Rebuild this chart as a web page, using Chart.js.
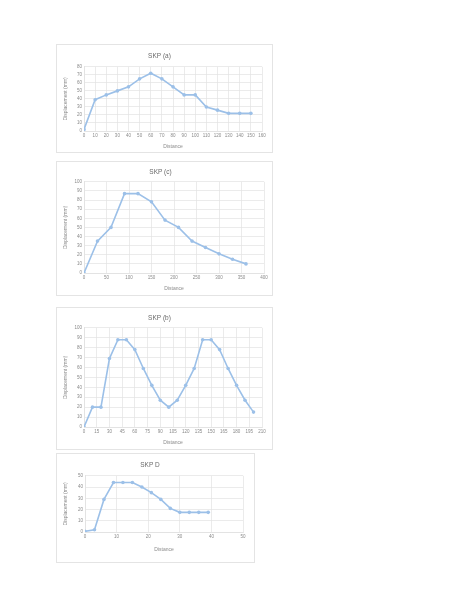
<!DOCTYPE html>
<html>
<head>
<meta charset="utf-8">
<script src="https://cdn.jsdelivr.net/npm/chart.js@4.4.0/dist/chart.umd.min.js"></script>
<style>
  body { margin: 0; background: #fff; width: 474px; height: 613px; position: relative; overflow: hidden; }
  .box { position: absolute; border: 1px solid #e4e4e4; box-sizing: border-box; }
</style>
</head>
<body>
<div class="box" style="left:56px;top:44px;width:217px;height:109px"><canvas id="c1"></canvas></div>
<div class="box" style="left:56px;top:161px;width:217px;height:135px"><canvas id="c2"></canvas></div>
<div class="box" style="left:56px;top:307px;width:217px;height:143px"><canvas id="c3"></canvas></div>
<div class="box" style="left:56px;top:453px;width:199px;height:110px"><canvas id="c4"></canvas></div>
<script>
// chart titles and axis titles
let titles = ['SKP (a)', 'SKP (c)', 'SKP (b)', 'SKP D'];
let xTitle = 'Distance';
let yTitle = 'Displacement (mm)';

// chart 1
let x1 = [0, 10, 20, 30, 40, 50, 60, 70, 80, 90, 100, 110, 120, 130, 140, 150];
let y1 = [2, 39, 45, 50, 55, 65, 72, 65, 55, 45, 45, 30, 26, 22, 22, 22];

// chart 2
let x2 = [0, 30, 60, 90, 120, 150, 180, 210, 240, 270, 300, 330, 360];
let y2 = [0, 35, 50, 87, 87, 78, 58, 50, 35, 28, 21, 15, 10];

// chart 3
let x3 = [0, 10, 20, 30, 40, 50, 60, 70, 80, 90, 100, 110, 120, 130, 140, 150, 160, 170, 180, 190, 200];
let y3 = [0, 20, 20, 69, 88, 88, 78, 59, 42, 27, 20, 27, 42, 59, 88, 88, 78, 59, 42, 27, 15];

// chart 4
let x4 = [0, 3, 6, 9, 12, 15, 18, 21, 24, 27, 30, 33, 36, 39];
let y4 = [0.6, 2, 29, 44, 44, 44, 40, 35, 29, 21, 17.5, 17.5, 17.5, 17.5];

let lineColor = '#9cc0e8';
let gridColor = '#e3e3e3';
let textColor = '#8a8a8a';

function makeChart(id, xs, ys, title, xAxis, yAxis, lay) {
  let points = xs.map(function (x, i) { return { x: x, y: ys[i] }; });
  return new Chart(document.getElementById(id), {
    type: 'line',
    data: {
      datasets: [{
        data: points,
        borderColor: lineColor,
        backgroundColor: lineColor,
        borderWidth: 1.6,
        pointRadius: 1.8,
        pointBorderWidth: 0,
        tension: 0
      }]
    },
    options: {
      responsive: true,
      maintainAspectRatio: false,
      animation: false,
      layout: { padding: { left: 0, right: lay.right, top: 0, bottom: 0 } },
      plugins: {
        legend: { display: false },
        tooltip: { enabled: false },
        title: {
          display: true,
          text: title,
          color: '#6a6a6a',
          font: { family: 'Liberation Sans', size: 6.5, weight: 'normal' },
          padding: { top: lay.titleTop, bottom: lay.titleBottom }
        }
      },
      scales: {
        x: {
          type: 'linear',
          min: xAxis[0], max: xAxis[1],
          ticks: { stepSize: xAxis[2], autoSkip: false, color: textColor, font: { family: 'Liberation Sans', size: 4.5 }, padding: 2, maxRotation: 0 },
          grid: { color: gridColor, lineWidth: 0.7, drawTicks: false },
          border: { color: gridColor },
          title: { display: true, text: xTitle, color: textColor, font: { family: 'Liberation Sans', size: 5 }, padding: { top: 0, bottom: lay.xTitleBottom } },
          afterFit: function (s) { s.height = lay.xHeight; }
        },
        y: {
          min: yAxis[0], max: yAxis[1],
          ticks: { stepSize: yAxis[2], autoSkip: false, color: textColor, font: { family: 'Liberation Sans', size: 4.5 }, padding: 2 },
          grid: { color: gridColor, lineWidth: 0.7, drawTicks: false },
          border: { color: gridColor },
          title: { display: true, text: yTitle, color: textColor, font: { family: 'Liberation Sans', size: 5 }, padding: { top: lay.yTitleLeft, bottom: 0 } },
          afterFit: function (s) { s.width = lay.yWidth; }
        }
      }
    }
  });
}

makeChart('c1', x1, y1, titles[0], [0, 160, 10], [0, 80, 10],
  { right: 10, titleTop: 7, titleBottom: 7, xHeight: 21, yWidth: 27, xTitleBottom: 2, yTitleLeft: 6 });
makeChart('c2', x2, y2, titles[1], [0, 400, 50], [0, 100, 10],
  { right: 8, titleTop: 6, titleBottom: 6, xHeight: 22, yWidth: 27, xTitleBottom: 3, yTitleLeft: 6 });
makeChart('c3', x3, y3, titles[2], [0, 210, 15], [0, 100, 10],
  { right: 10, titleTop: 6, titleBottom: 6, xHeight: 22, yWidth: 27, xTitleBottom: 3, yTitleLeft: 6 });
makeChart('c4', x4, y4, titles[3], [0, 50, 10], [0, 50, 10],
  { right: 11, titleTop: 7, titleBottom: 7, xHeight: 30, yWidth: 28, xTitleBottom: 9, yTitleLeft: 6 });
</script>
</body>
</html>
